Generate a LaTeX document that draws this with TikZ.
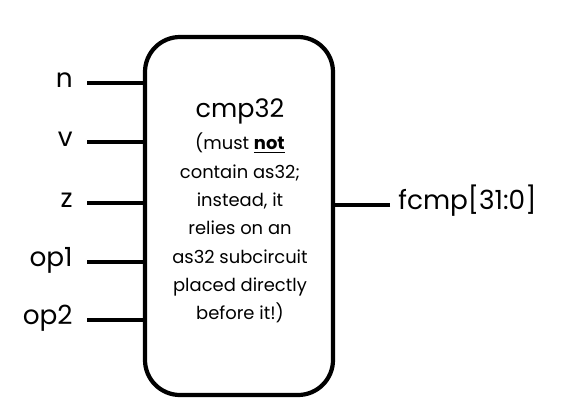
\documentclass[tikz,border=0pt]{standalone}
\usepackage{fontspec}
\setmainfont{Poppins}
\usetikzlibrary{positioning}

\begin{document}
\begin{tikzpicture}
	\def \wid {3.76}
	\def \hgt {7.16}
	\tikzset{
		box/.style={draw, line width=2.4pt, rounded corners=0.7cm, minimum width=\wid cm, minimum height=\hgt cm, inner sep=0pt},
		wire/.style={line width=2.4pt},
		inlbl/.style={font=\fontsize{15}{18}\selectfont, inner ysep=0pt, inner xsep=0.28cm, anchor=mid east},
		outlbl/.style={font=\fontsize{15}{18}\selectfont, inner ysep=0pt, inner xsep=0.16cm, anchor=mid west}
	}
	\useasboundingbox (0,0) rectangle (11.42,8.3);
	
	%block
	\node[box] (cmp) at (4.78,3.98) {};
	\node[font=\fontsize{14.5}{17}\selectfont, anchor=base] (title) at (4.8,5.96) {cmp32};
	\node[font=\fontsize{10.2}{16.1}\selectfont, align=center] (note) at (4.8,3.74)
		{(must \underline{\textbf{not}}\\contain as32;\\instead, it\\relies on an\\as32 subcircuit\\placed directly\\before it!)};
	
	%inputs
	\node[inlbl] (n) at (1.74,6.64) {n};
	\node[inlbl] (v) at (1.74,5.46) {v};
	\node[inlbl] (z) at (1.74,4.24) {z};
	\node[inlbl] (op1) at (1.74,3.06) {op1};
	\node[inlbl] (op2) at (1.74,1.9) {op2};
	\draw[wire] (n.mid east) -- (n.mid east -| cmp.west);
	\draw[wire] (v.mid east) -- (v.mid east -| cmp.west);
	\draw[wire] (z.mid east) -- (z.mid east -| cmp.west);
	\draw[wire] (op1.mid east) -- (op1.mid east -| cmp.west);
	\draw[wire] (op2.mid east) -- (op2.mid east -| cmp.west);
	
	%output
	\node[outlbl] (fcmp) at (7.8,4.2) {fcmp[31:0]};
	\draw[wire] (fcmp.mid west) -- (fcmp.mid west -| cmp.east);
\end{tikzpicture}
\end{document}
